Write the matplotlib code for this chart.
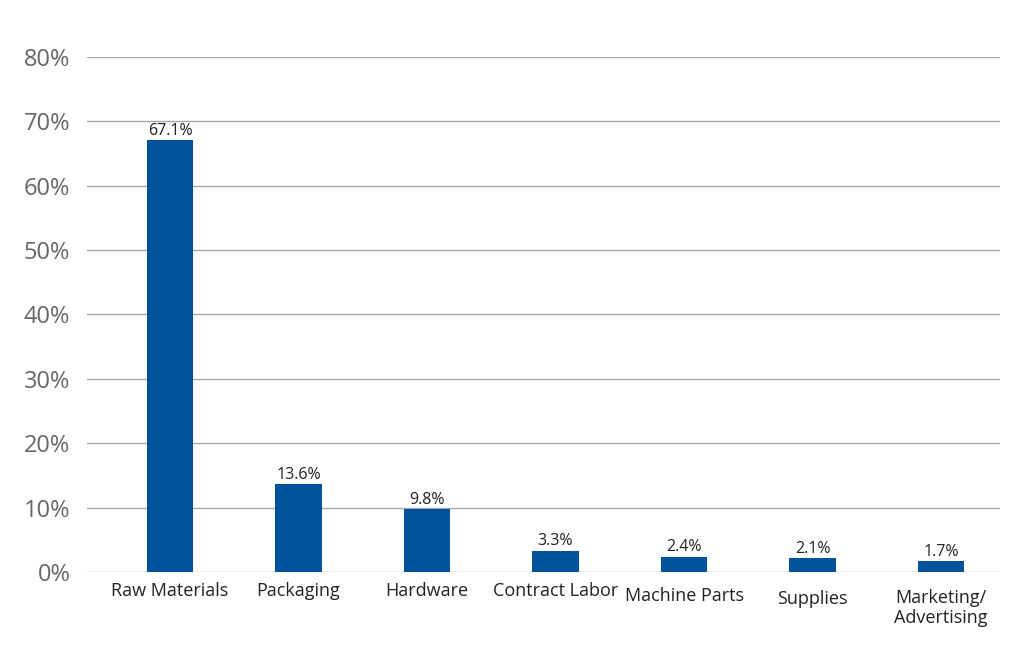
import matplotlib
matplotlib.use("Agg")
import matplotlib.pyplot as plt
import matplotlib.transforms as mtransforms
import numpy as np

categories = ["Raw Materials", "Packaging", "Hardware", "Contract Labor",
              "Machine Parts", "Supplies", "Marketing/\nAdvertising"]
values = [67.1, 13.6, 9.8, 3.3, 2.4, 2.1, 1.7]
value_labels = ["67.1%", "13.6%", "9.8%", "3.3%", "2.4%", "2.1%", "1.7%"]
yticks = [0, 10, 20, 30, 40, 50, 60, 70, 80]
ytick_labels = ["0%", "10%", "20%", "30%", "40%", "50%", "60%", "70%", "80%"]

plt.rcParams['font.family'] = ['Open Sans', 'DejaVu Sans']

fig = plt.figure(figsize=(10.24, 6.52), dpi=100)
ax = fig.add_axes([0.085, 0.1227, 0.8916, 0.7899])

x = np.arange(len(categories))
bars = ax.bar(x, values, width=0.36, color='#00539b', zorder=3)

for bar, lab in zip(bars, value_labels):
    ax.annotate(lab, (bar.get_x() + bar.get_width() / 2, bar.get_height()),
                xytext=(0, 1), textcoords='offset points',
                ha='center', va='bottom', fontsize=11.5, color='#222222')

ax.set_ylim(0, 80)
ax.set_xlim(-0.646, 6.459)
ax.set_yticks(yticks)
ax.set_yticklabels(ytick_labels, fontsize=17, color='#666666')
ax.set_xticks(x)
ax.set_xticklabels(categories, fontsize=13, color='#222222', linespacing=1.15)
ax.tick_params(axis='both', length=0)
ax.tick_params(axis='y', pad=12)
ax.tick_params(axis='x', pad=7)

# the original labels sit a little unevenly, nudge a few down (pixels)
nudge = [0, 0, 0, 0, 5, 8, 7]
for lbl, dy in zip(ax.get_xticklabels(), nudge):
    off = mtransforms.ScaledTranslation(0, -dy / 100, fig.dpi_scale_trans)
    lbl.set_transform(lbl.get_transform() + off)

ax.grid(axis='y', color='#a6a6a6', linewidth=1.0, zorder=0)
for s in ax.spines.values():
    s.set_visible(False)

fig.savefig("out.png", dpi=100)
